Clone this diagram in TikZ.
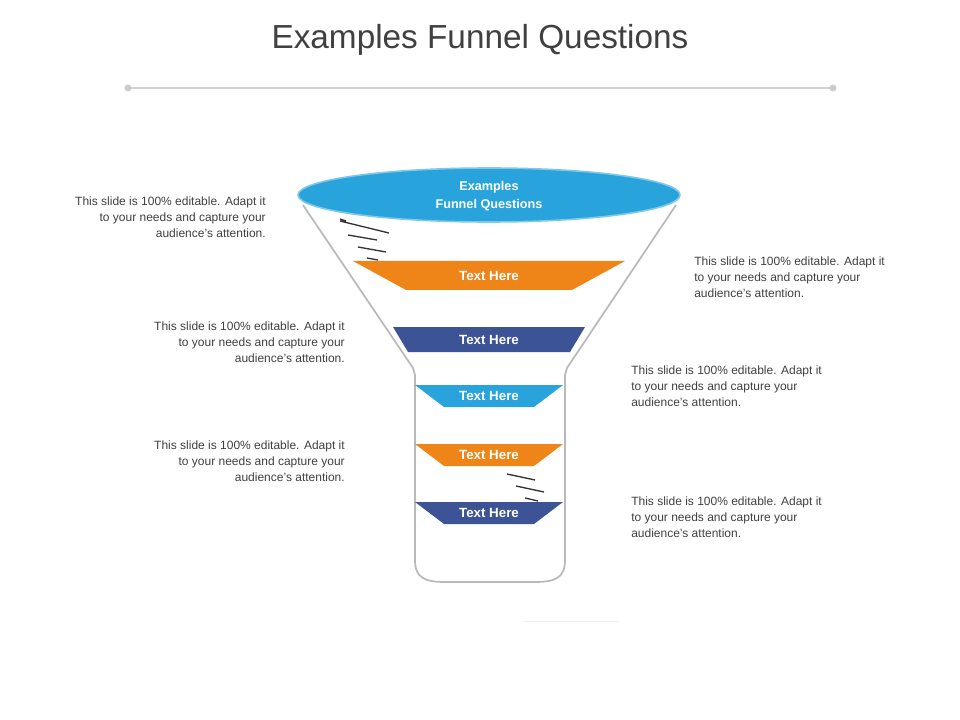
\documentclass[tikz,border=0pt]{standalone}
\usepackage{fontspec}
\setmainfont{Liberation Sans}
\usetikzlibrary{positioning}
\definecolor{sky}{HTML}{29A3DB}
\definecolor{orng}{HTML}{EF8518}
\definecolor{navy}{HTML}{3C5396}
\definecolor{txt}{HTML}{404040}
\tikzset{
  note/.style={font=\fontsize{9}{12}\selectfont, text=txt, inner sep=0pt},
  bandtext/.style={font=\fontsize{10}{12}\selectfont\bfseries, text=white},
  hatch/.style={draw=txt!80!black, line width=1pt},
}
\newcommand{\band}[6]{% color, ytop, ybot, top half width, bottom half width, name
  \fill[#1] (489-#4,#2) -- (489+#4,#2) -- (489+#5,#3) -- (489-#5,#3) -- cycle;
  \node[bandtext] (#6) at (489,{(#2+#3)/2}) {Text Here};}
\begin{document}
\begin{tikzpicture}[x=0.75pt, y=-0.75pt]
\useasboundingbox (0,0) rectangle (960,720);
% title
\node[font=\fontsize{25}{30}\selectfont, text=txt] (title) at (480,40) {Examples Funnel Questions};
\draw[gray!35, line width=0.8pt] (128,88) -- (833,88);
\fill[gray!40] (128,88) circle (3.5) (833,88) circle (3.5);
% funnel outline
\draw[gray!55, line width=1.3pt] (303,205) -- (413,368) -- (415,375) -- (415,560)
  .. controls (415,578) and (425,582) .. (445,582) -- (535,582)
  .. controls (555,582) and (565,578) .. (565,560) -- (565,375) -- (567,368) -- (676,205);
\fill[sky] (489,195) ellipse (191 and 27);
\draw[sky!60, line width=1.2pt] (489,195) ellipse (191 and 27);
\node[bandtext, align=center, font=\fontsize{9.5}{14}\selectfont\bfseries] (top) at (489,196) {Examples\\Funnel Questions};
% bands
\band{orng}{261}{290}{136}{83}{b1}
\band{navy}{327}{352}{96}{81}{b2}
\band{sky}{385}{407}{74}{45}{b3}
\band{orng}{444}{466}{74}{45}{b4}
\band{navy}{502}{524}{74}{45}{b5}
% hatch marks
\draw[hatch] (340,219) -- (346,221) (340,221) -- (389,233) (348,235) -- (377,240)
  (358,247) -- (386,252) (367,258) -- (378,260);
\draw[hatch] (507,474) -- (535,480) (516,486) -- (544,492) (525,498) -- (538,501);
\draw[gray!12] (523,621) -- (619,621);
% notes
\node[note, align=right, anchor=north east] (n1) at (266,197) {This slide is 100\% editable. Adapt it\\to your needs and capture your\\audience's attention.};
\node[note, align=left, anchor=north west] (n2) at (694,257) {This slide is 100\% editable. Adapt it\\to your needs and capture your\\audience's attention.};
\node[note, align=right, anchor=north east] (n3) at (345,322) {This slide is 100\% editable. Adapt it\\to your needs and capture your\\audience's attention.};
\node[note, align=left, anchor=north west] (n4) at (631,366) {This slide is 100\% editable. Adapt it\\to your needs and capture your\\audience's attention.};
\node[note, align=right, anchor=north east] (n5) at (345,441) {This slide is 100\% editable. Adapt it\\to your needs and capture your\\audience's attention.};
\node[note, align=left, anchor=north west] (n6) at (631,497) {This slide is 100\% editable. Adapt it\\to your needs and capture your\\audience's attention.};
\end{tikzpicture}
\end{document}
